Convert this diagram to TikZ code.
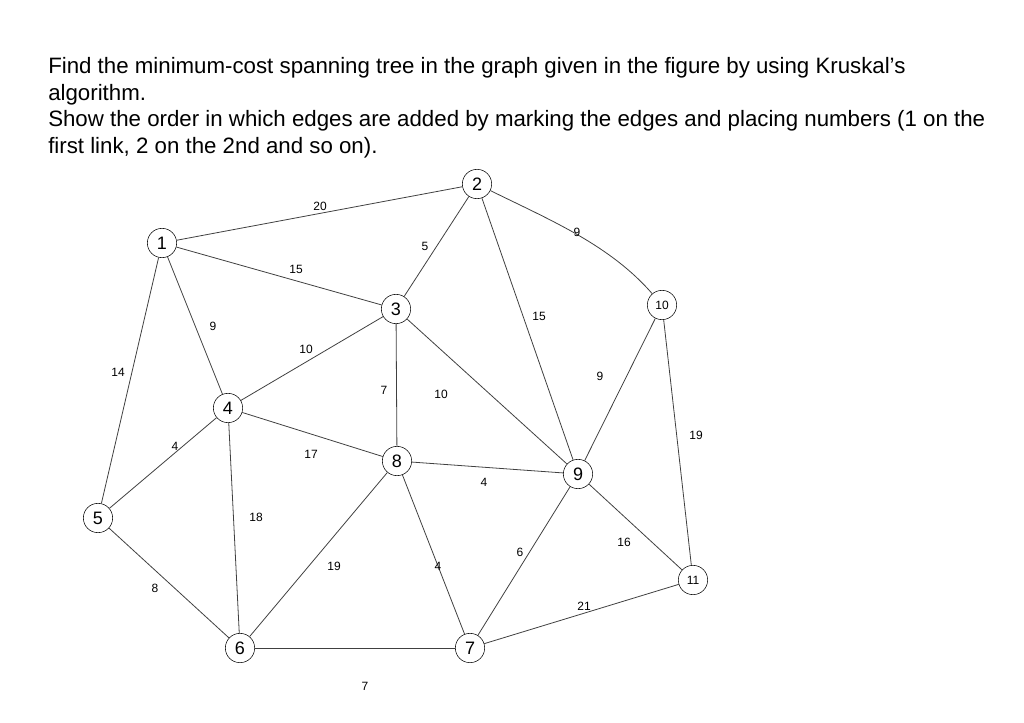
\documentclass[tikz,border=0pt]{standalone}
\usepackage{fontspec}
\setmainfont{Liberation Sans}
\begin{document}
\begin{tikzpicture}[x=0.75pt,y=-0.75pt,
  vtx/.style={circle,draw,fill=white,minimum size=22pt,inner sep=0pt,font=\fontsize{13.5}{15}\selectfont},
  wt/.style={font=\fontsize{9}{10}\selectfont,inner sep=1pt},
  edge/.style={draw=black!75,line width=0.6pt}]
\useasboundingbox (0,0) rectangle (1024,723);
\node[anchor=north west,align=left,font=\fontsize{16.7}{20}\selectfont,inner sep=0pt] (title) at (48,57)
{Find the minimum-cost spanning tree in the graph given in the figure by using Kruskal’s\\
algorithm.\\
Show the order in which edges are added by marking the edges and placing numbers (1 on the\\
first link, 2 on the 2nd and so on).};
\node[vtx] (n1) at (162,243) {1};
\node[vtx] (n2) at (477,184) {2};
\node[vtx] (n3) at (396,309) {3};
\node[vtx] (n4) at (228,408) {4};
\node[vtx] (n5) at (98,518) {5};
\node[vtx] (n6) at (240,648) {6};
\node[vtx] (n7) at (470,648) {7};
\node[vtx] (n8) at (397,461) {8};
\node[vtx] (n9) at (578,474) {9};
\node[vtx,font=\fontsize{9}{10}\selectfont] (n10) at (662,305) {10};
\node[vtx,font=\fontsize{9}{10}\selectfont] (n11) at (693,580) {11};
\foreach \a/\b in {1/2,1/3,1/4,1/5,2/3,2/9,3/4,3/8,3/9,4/5,4/8,4/6,8/9,8/6,8/7,9/7,9/10,9/11,10/11,5/6,6/7,7/11}
  \draw[edge] (n\a) -- (n\b);
\draw[edge] (n2) .. controls (550,220) and (610,245) .. (n10);
\node[wt] (w1) at (320,206) {20};
\node[wt] (w2) at (296,269) {15};
\node[wt] (w3) at (213,326) {9};
\node[wt] (w4) at (118,372) {14};
\node[wt] (w5) at (425,246) {5};
\node[wt] (w6) at (539,316) {15};
\node[wt] (w7) at (577,232) {9};
\node[wt] (w8) at (306,349) {10};
\node[wt] (w9) at (384,390) {7};
\node[wt] (w10) at (441,394) {10};
\node[wt] (w11) at (175,446) {4};
\node[wt] (w12) at (311,454) {17};
\node[wt] (w13) at (256,517) {18};
\node[wt] (w14) at (484,482) {4};
\node[wt] (w15) at (334,566) {19};
\node[wt] (w16) at (438,566) {4};
\node[wt] (w17) at (520,552) {6};
\node[wt] (w18) at (600,376) {9};
\node[wt] (w19) at (624,542) {16};
\node[wt] (w20) at (696,435) {19};
\node[wt] (w21) at (155,588) {8};
\node[wt] (w22) at (365,686) {7};
\node[wt] (w23) at (584,606) {21};
\end{tikzpicture}
\end{document}
